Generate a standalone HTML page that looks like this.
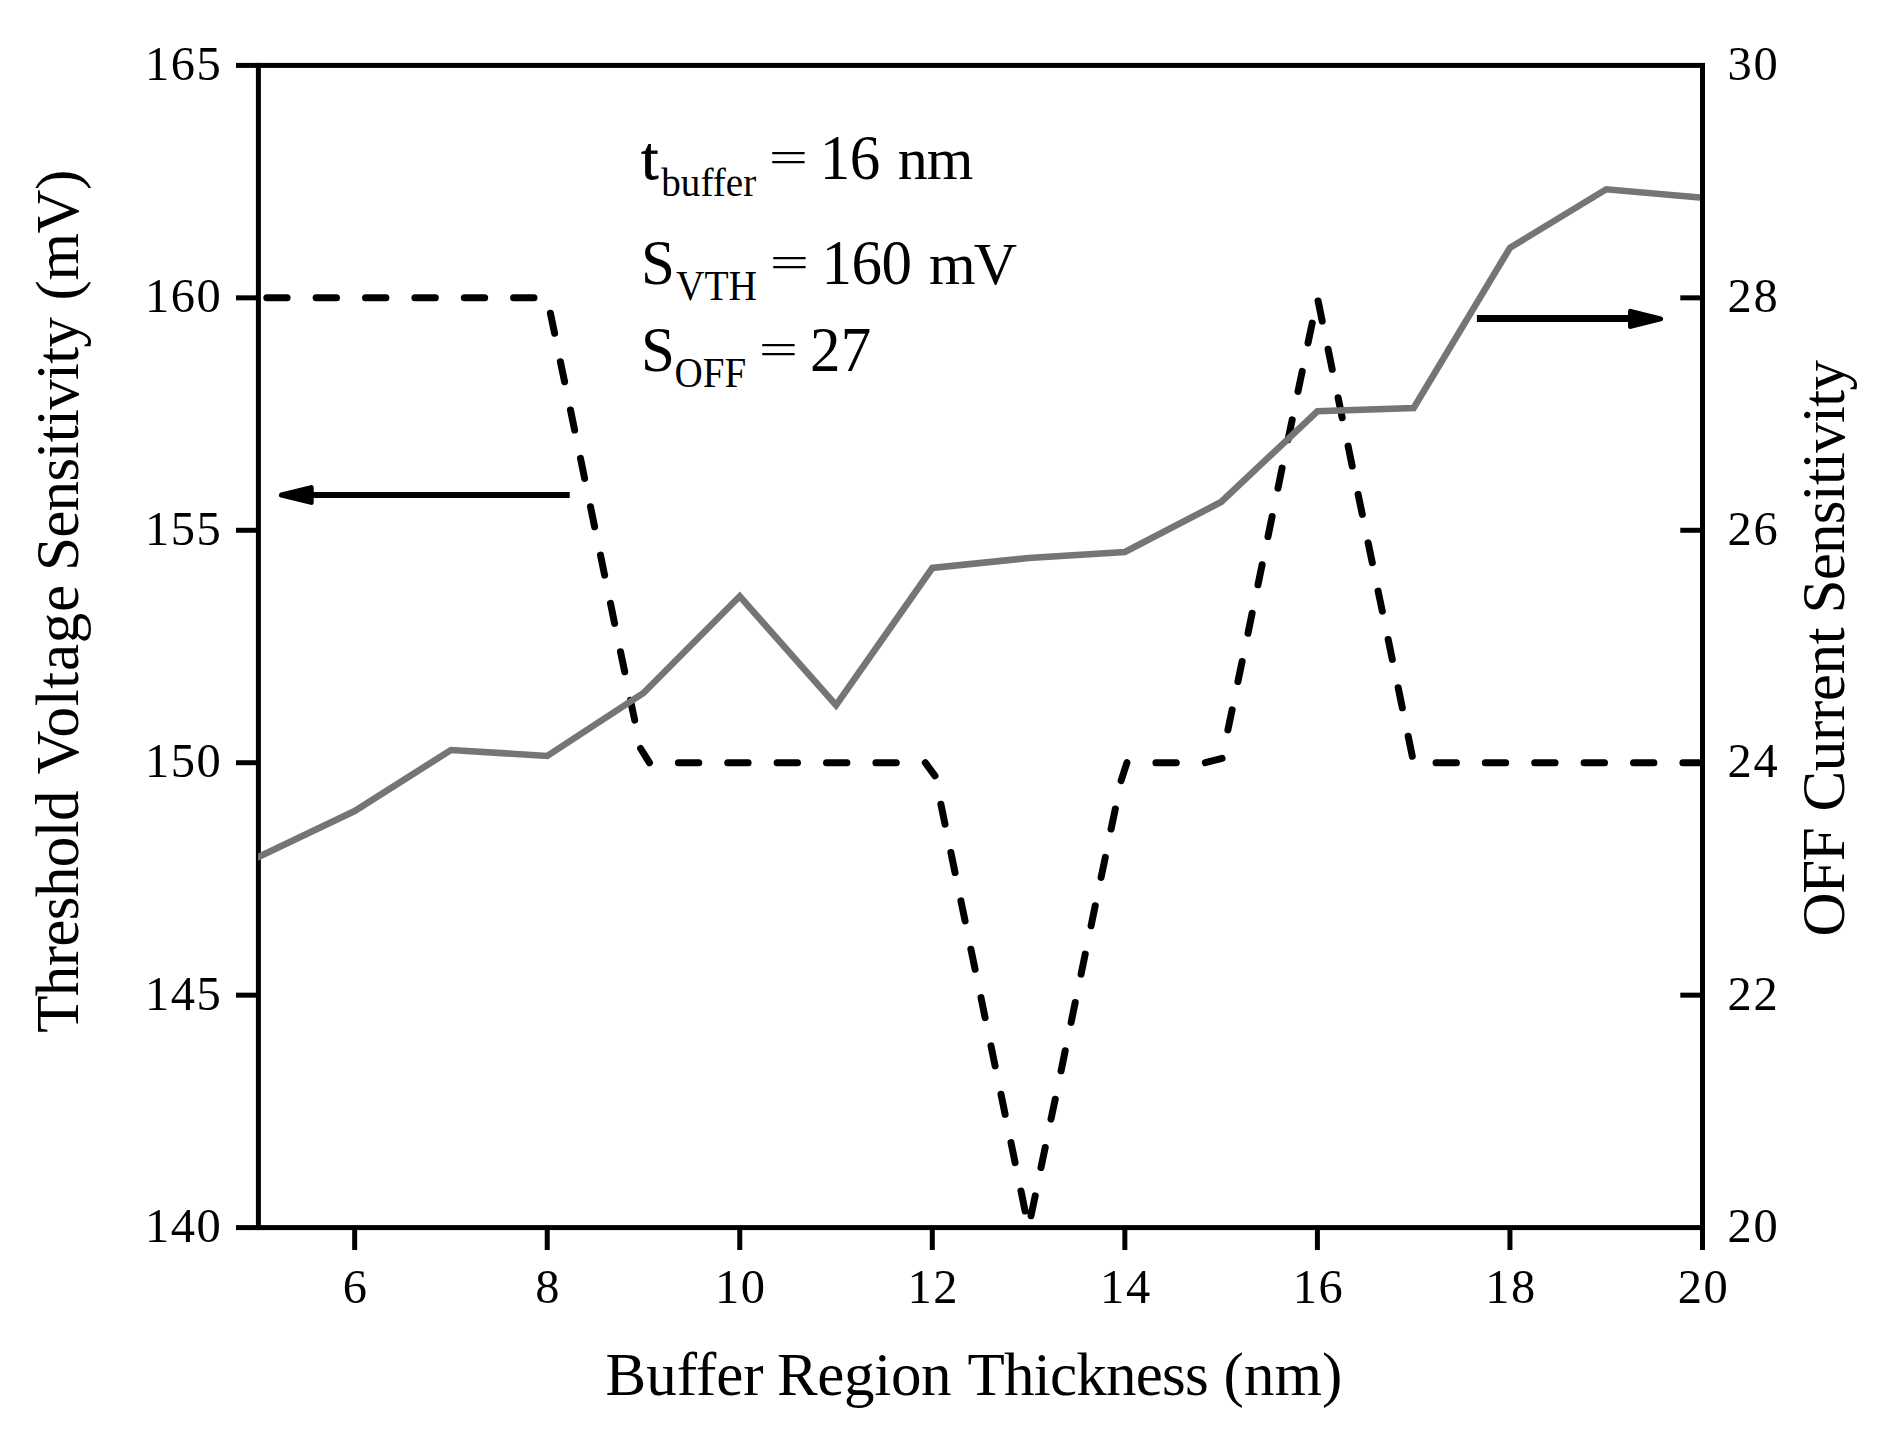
<!DOCTYPE html>
<html lang="en"><head><meta charset="utf-8"><title>Buffer Region Thickness sensitivity chart</title>
<style>html,body{margin:0;padding:0;background:#fff}svg{display:block}text{font-family:"Liberation Serif",serif;fill:#000}</style>
</head><body>
<svg width="1888" height="1436" viewBox="0 0 1888 1436">
<rect width="1888" height="1436" fill="#fff"/>
<g stroke="#000" stroke-width="5" fill="none" stroke-linecap="butt">
<rect x="258.40" y="65.40" width="1444.10" height="1162.20"/>
<line x1="236" x2="258.40" y1="1227.60" y2="1227.60"/>
<line x1="236" x2="258.40" y1="995.16" y2="995.16"/>
<line x1="236" x2="258.40" y1="762.72" y2="762.72"/>
<line x1="236" x2="258.40" y1="530.28" y2="530.28"/>
<line x1="236" x2="258.40" y1="297.84" y2="297.84"/>
<line x1="236" x2="258.40" y1="65.40" y2="65.40"/>
<line x1="354.67" x2="354.67" y1="1227.60" y2="1250"/>
<line x1="547.22" x2="547.22" y1="1227.60" y2="1250"/>
<line x1="739.77" x2="739.77" y1="1227.60" y2="1250"/>
<line x1="932.31" x2="932.31" y1="1227.60" y2="1250"/>
<line x1="1124.86" x2="1124.86" y1="1227.60" y2="1250"/>
<line x1="1317.41" x2="1317.41" y1="1227.60" y2="1250"/>
<line x1="1509.95" x2="1509.95" y1="1227.60" y2="1250"/>
<line x1="1702.50" x2="1702.50" y1="1227.60" y2="1250"/>
</g>
<path d="M266.8 297.8L287.1 297.8M316.1 297.8L336.5 297.8M365.5 297.8L385.9 297.8M414.9 297.8L435.3 297.8M464.3 297.8L484.7 297.8M513.6 297.8L534.0 297.8M550.4 313.3L554.6 333.3M560.4 361.7L564.6 381.7M570.5 410.0L574.6 430.0M580.5 458.4L584.6 478.4M590.5 506.7L594.6 526.7M600.5 555.1L604.6 575.1M610.5 603.4L614.6 623.4M620.5 651.8L624.7 671.8M630.5 700.2L634.7 720.1M640.6 748.5L649.4 762.7M678.4 762.7L698.8 762.7M727.7 762.7L748.1 762.7M777.1 762.7L797.5 762.7M826.5 762.7L846.9 762.7M875.9 762.7L896.3 762.7M925.3 762.7L935.0 775.8M940.9 804.2L945.0 824.1M950.9 852.5L955.0 872.5M960.9 900.9L965.1 920.9M970.9 949.2L975.1 969.2M981.0 997.6L985.1 1017.6M991.0 1045.9L995.1 1065.9M1001.0 1094.3L1005.1 1114.3M1011.0 1142.6L1015.1 1162.6M1021.0 1191.0L1025.1 1211.0M1031.0 1215.8L1035.2 1195.9M1041.0 1167.5L1045.2 1147.5M1051.0 1119.1L1055.2 1099.2M1061.1 1070.8L1065.2 1050.8M1071.1 1022.4L1075.2 1002.5M1081.1 974.1L1085.2 954.1M1091.1 925.7L1095.2 905.7M1101.1 877.4L1105.3 857.4M1111.1 829.0L1115.3 809.0M1121.1 780.7L1126.9 762.7M1155.9 762.7L1176.3 762.7M1205.3 762.7L1222.1 758.3M1227.9 729.9L1232.1 709.9M1237.9 681.5L1242.1 661.5M1248.0 633.2L1252.1 613.2M1258.0 584.8L1262.1 564.8M1268.0 536.5L1272.1 516.5M1278.0 488.1L1282.1 468.1M1288.0 439.7L1292.2 419.8M1298.0 391.4L1302.2 371.4M1308.0 343.0L1312.2 323.1M1318.1 301.0L1322.2 321.0M1328.1 349.3L1332.2 369.3M1338.1 397.7L1342.2 417.7M1348.1 446.1L1352.2 466.0M1358.1 494.4L1362.3 514.4M1368.1 542.8L1372.3 562.7M1378.1 591.1L1382.3 611.1M1388.2 639.5L1392.3 659.4M1398.2 687.8L1402.3 707.8M1408.2 736.2L1412.3 756.2M1436.0 762.7L1456.4 762.7M1485.3 762.7L1505.7 762.7M1534.7 762.7L1555.1 762.7M1584.1 762.7L1604.5 762.7M1633.5 762.7L1653.9 762.7M1682.9 762.7L1700.5 762.7" stroke="#000" stroke-width="7" stroke-linecap="round" fill="none"/>
<clipPath id="plotclip"><rect x="258.1" y="0" width="1444.40" height="1436"/></clipPath>
<polyline clip-path="url(#plotclip)" points="248.40,861.78 258.40,857.00 354.67,811.00 450.95,750.00 547.22,756.00 643.49,693.00 739.77,596.25 836.04,705.25 932.31,568.00 1028.59,558.00 1124.86,552.00 1221.13,502.00 1317.41,411.25 1413.68,408.00 1509.95,247.80 1606.23,189.30 1702.50,197.80 1712.50,198.68" stroke="#757575" stroke-width="6.6" stroke-linejoin="miter" fill="none"/>
<g stroke="#000" stroke-width="5" fill="none" stroke-linecap="butt">
<line x1="1702.50" x2="1702.50" y1="62.90" y2="1250"/>
<line x1="1680.3" x2="1702.50" y1="995.16" y2="995.16"/>
<line x1="1680.3" x2="1702.50" y1="762.72" y2="762.72"/>
<line x1="1680.3" x2="1702.50" y1="530.28" y2="530.28"/>
<line x1="1680.3" x2="1702.50" y1="297.84" y2="297.84"/>
</g>
<g stroke="#000" fill="#000" stroke-linejoin="round">
<line x1="569.7" x2="300" y1="495" y2="495" stroke-width="6"/>
<path d="M281.4 495 L311.2 487.6 L311.2 502.4 Z" stroke-width="5"/>
<line x1="1476.9" x2="1640" y1="318.5" y2="318.5" stroke-width="6.8"/>
<path d="M1660.6 318.9 L1630.5 311.4 L1630.5 326.4 Z" stroke-width="5"/>
</g>
<g font-size="48.5" letter-spacing="1.55">
<text x="145.0" y="1242.20">140</text>
<text x="145.0" y="1009.76">145</text>
<text x="145.0" y="777.32">150</text>
<text x="145.0" y="544.88">155</text>
<text x="145.0" y="312.44">160</text>
<text x="145.0" y="80.00">165</text>
<text x="1727.6" y="1242.20">20</text>
<text x="1727.6" y="1009.76">22</text>
<text x="1727.6" y="777.32">24</text>
<text x="1727.6" y="544.88">26</text>
<text x="1727.6" y="312.44">28</text>
<text x="1727.6" y="80.00">30</text>
<text x="342.67" y="1303.1">6</text>
<text x="535.22" y="1303.1">8</text>
<text x="715.02" y="1303.1">10</text>
<text x="907.56" y="1303.1">12</text>
<text x="1100.11" y="1303.1">14</text>
<text x="1292.66" y="1303.1">16</text>
<text x="1485.20" y="1303.1">18</text>
<text x="1677.75" y="1303.1">20</text>
</g>
<text x="641.3" y="178.75" font-size="62" stroke="#000" stroke-width="0.8">t</text>
<text transform="translate(661.30 195.90) scale(0.955 1)" font-size="41">buffer</text>
<text transform="translate(768.74 171.55) scale(1.16 0.73)" font-size="60">=</text>
<text transform="translate(819.75 178.75) scale(1 1.035)" font-size="61" letter-spacing="-0.500">16</text>
<text x="897.75" y="178.75" font-size="60" letter-spacing="-1.000">nm</text>
<text transform="translate(641.00 283.75) scale(1 1.035)" font-size="61">S</text>
<text transform="translate(675.90 300.00) scale(0.93 1)" font-size="42.5">VTH</text>
<text transform="translate(769.74 276.55) scale(1.16 0.73)" font-size="60">=</text>
<text transform="translate(821.45 283.75) scale(1 1.035)" font-size="61" letter-spacing="-0.500">160</text>
<text x="929.00" y="283.75" font-size="60" letter-spacing="-2.000">mV</text>
<text transform="translate(641.00 371.25) scale(1 1.035)" font-size="61">S</text>
<text transform="translate(674.60 386.80) scale(0.92 1)" font-size="42.5">OFF</text>
<text transform="translate(758.84 364.05) scale(1.16 0.73)" font-size="60">=</text>
<text transform="translate(809.95 371.25) scale(1 1.035)" font-size="61" letter-spacing="0.200">27</text>
<text font-size="61"><tspan x="605.50" y="1395.30">Buffer</tspan> <tspan x="777.00" y="1395.30" letter-spacing="-0.320">Region</tspan> <tspan x="967.50" y="1395.30" letter-spacing="-0.750">Thickness</tspan> <tspan x="1223.50" y="1395.30" letter-spacing="0.067">(nm)</tspan></text>
<text transform="translate(78.20 0) rotate(-90)" font-size="61"><tspan x="-1032.75" y="0" letter-spacing="-0.650">Threshold</tspan> <tspan x="-774.50" y="0" letter-spacing="0.733">Voltage</tspan> <tspan x="-571.00" y="0" letter-spacing="-0.700">Sensitivity</tspan> <tspan x="-300.50" y="0" letter-spacing="-0.400">(mV)</tspan></text>
<text transform="translate(1844.10 0) rotate(-90)" font-size="61"><tspan x="-936.50" y="0" letter-spacing="-1.400">OFF</tspan> <tspan x="-811.50" y="0" letter-spacing="-0.367">Current</tspan> <tspan x="-613.50" y="0" letter-spacing="-0.760">Sensitivity</tspan></text>
</svg>
</body></html>
